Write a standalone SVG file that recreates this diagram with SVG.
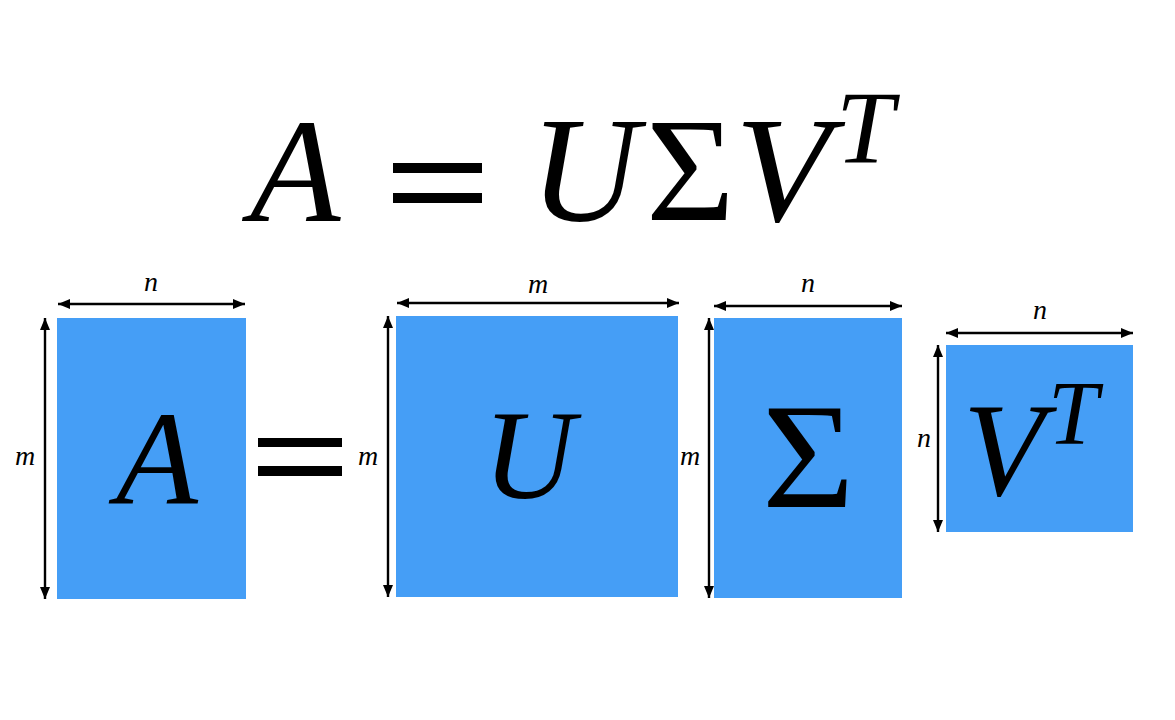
<svg xmlns="http://www.w3.org/2000/svg" width="1175" height="720" viewBox="0 0 1175 720">
<defs>
<style>
.box{fill:#459ef6}
.dim{stroke:#000;stroke-width:2.4;fill:none;marker-start:url(#ah);marker-end:url(#ah)}
text{font-family:'Liberation Serif',Tinos,'Times New Roman',Times,serif;fill:#000}
.it{font-style:italic}
.lbl{font-style:italic;font-size:28px;text-anchor:middle}
</style>
<marker id="ah" viewBox="0 0 12 10" refX="12" refY="5" markerWidth="12" markerHeight="10" markerUnits="userSpaceOnUse" orient="auto-start-reverse">
<path d="M0,0 L12,5 L0,10 Z" fill="#000"/>
</marker>
</defs>
<rect width="1175" height="720" fill="#fff"/>
<g id="formula">
<text class="it" x="250" y="221" font-size="148">A</text>
<rect x="393" y="163" width="89" height="10" fill="#000"/>
<rect x="393" y="193" width="89" height="10" fill="#000"/>
<text class="it" x="530" y="221" font-size="150">U</text>
<text transform="translate(646,220) scale(1.03,1)" x="0" y="0" font-size="148">Σ</text>
<text transform="translate(735,221) scale(1.04,1)" class="it" x="0" y="0" font-size="150">V</text>
<text class="it" x="836" y="163" font-size="104">T</text>
</g>
<g id="matrix-A">
<rect class="box" x="57" y="318" width="189" height="281"/>
<text class="it" x="116" y="503" font-size="134">A</text>
<text class="lbl" x="151" y="291">n</text>
<text class="lbl" x="25" y="465">m</text>
</g>
<g id="equals">
<rect x="258" y="438" width="84" height="9" fill="#000"/>
<rect x="258" y="466" width="84" height="10" fill="#000"/>
</g>
<g id="matrix-U">
<rect class="box" x="396" y="316" width="282" height="281"/>
<text class="it" x="483" y="498" font-size="127">U</text>
<text class="lbl" x="538" y="293">m</text>
<text class="lbl" x="368" y="465">m</text>
</g>
<g id="matrix-Sigma">
<rect class="box" x="714" y="318" width="188" height="280"/>
<text transform="translate(762,507) scale(1.06,1)" x="0" y="0" font-size="150">Σ</text>
<text class="lbl" x="808" y="292">n</text>
<text class="lbl" x="690" y="465">m</text>
</g>
<g id="matrix-VT">
<rect class="box" x="946" y="345" width="187" height="187"/>
<text class="it" x="963" y="495" font-size="133">V</text>
<text class="it" x="1048" y="444" font-size="90">T</text>
<text class="lbl" x="1040" y="319">n</text>
<text class="lbl" x="924" y="447">n</text>
</g>
<g id="connectors">
<line class="dim" x1="58" y1="304" x2="245" y2="304"/>
<line class="dim" x1="45" y1="318" x2="45" y2="599"/>
<line class="dim" x1="397" y1="303" x2="679" y2="303"/>
<line class="dim" x1="388" y1="316" x2="388" y2="597"/>
<line class="dim" x1="714" y1="306" x2="902" y2="306"/>
<line class="dim" x1="709" y1="318" x2="709" y2="598"/>
<line class="dim" x1="946" y1="333" x2="1133" y2="333"/>
<line class="dim" x1="938" y1="345" x2="938" y2="532"/>
</g>
</svg>
